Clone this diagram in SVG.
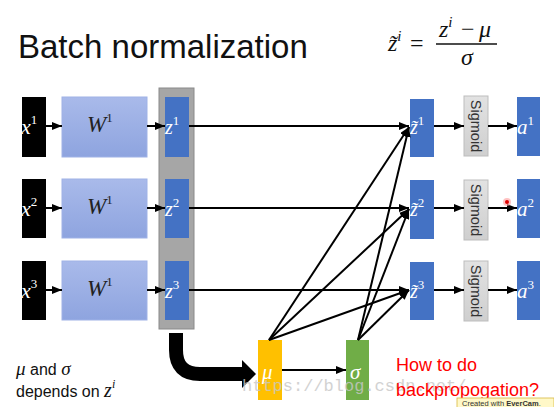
<svg xmlns="http://www.w3.org/2000/svg" width="554" height="407" viewBox="0 0 554 407">
<defs>
<linearGradient id="gW" x1="0" y1="0" x2="0" y2="1"><stop offset="0" stop-color="#A9BAEA"/><stop offset="1" stop-color="#8EA4DF"/></linearGradient>
<linearGradient id="gS" x1="0" y1="0" x2="0" y2="1"><stop offset="0" stop-color="#E2E2E2"/><stop offset="1" stop-color="#CFCFCF"/></linearGradient>
<marker id="ah" markerUnits="userSpaceOnUse" markerWidth="10" markerHeight="8" refX="10" refY="4" orient="auto"><path d="M0,0 L10,4 L0,8 z" fill="#000"/></marker>
<style>
.blk{fill:#000}
.w{fill:url(#gW);stroke:#9FB2E6;stroke-width:1}
.z{fill:#4472C4}
.sg{fill:url(#gS);stroke:#BDBDBD;stroke-width:1}
.m{font-family:"Liberation Serif","DejaVu Serif",serif;font-style:italic}
.wt{fill:#fff}
.sup{font-size:13px;font-style:normal}
.sans{font-family:"Liberation Sans","Noto Sans",sans-serif}
.ln{stroke:#000;stroke-width:2;fill:none;marker-end:url(#ah)}
</style>
</defs>
<rect width="554" height="407" fill="#fff"/>
<text x="18" y="58" class="sans" font-size="33" fill="#111">Batch normalization</text>
<g id="formula" class="m" fill="#111" font-size="24">
<text x="388" y="51">z&#x0303;<tspan font-size="15" dy="-10">i</tspan></text>
<text x="410" y="51" font-style="normal">=</text>
<line x1="436" y1="44" x2="497" y2="44" stroke="#111" stroke-width="1.5"/>
<text x="439" y="37">z<tspan font-size="15" dy="-10">i</tspan></text>
<text x="461" y="37" font-style="normal">−</text>
<text x="479" y="37">μ</text>
<text x="461" y="65">σ</text>
</g>
<g id="batch" ><rect x="159" y="88" width="35" height="241" fill="#A6A6A6" stroke="#8A8A8A" stroke-width="1"/></g>
<g id="x1"><rect x="22" y="97" width="24" height="60" class="blk"/><text x="21" y="134" class="m wt" font-size="22">x<tspan class="sup" dy="-10">1</tspan></text></g>
<g id="x2"><rect x="22" y="179" width="24" height="59" class="blk"/><text x="21" y="216" class="m wt" font-size="22">x<tspan class="sup" dy="-10">2</tspan></text></g>
<g id="x3"><rect x="22" y="261" width="24" height="59" class="blk"/><text x="21" y="298" class="m wt" font-size="22">x<tspan class="sup" dy="-10">3</tspan></text></g>
<g id="W1a"><rect x="62" y="97" width="85" height="60" class="w"/><text x="87" y="132" class="m" fill="#222" font-size="23">W<tspan class="sup" font-size="14" dy="-10">1</tspan></text></g>
<g id="W1b"><rect x="62" y="179" width="85" height="59" class="w"/><text x="87" y="214" class="m" fill="#222" font-size="23">W<tspan class="sup" font-size="14" dy="-10">1</tspan></text></g>
<g id="W1c"><rect x="62" y="261" width="85" height="59" class="w"/><text x="87" y="296" class="m" fill="#222" font-size="23">W<tspan class="sup" font-size="14" dy="-10">1</tspan></text></g>
<g id="z1"><rect x="165" y="97" width="24" height="60" class="z"/><text x="165" y="134" class="m wt" font-size="20">z<tspan class="sup" dy="-9">1</tspan></text></g>
<g id="z2"><rect x="165" y="179" width="24" height="59" class="z"/><text x="165" y="216" class="m wt" font-size="20">z<tspan class="sup" dy="-9">2</tspan></text></g>
<g id="z3"><rect x="165" y="261" width="24" height="59" class="z"/><text x="165" y="298" class="m wt" font-size="20">z<tspan class="sup" dy="-9">3</tspan></text></g>
<g id="zt1"><rect x="410" y="99" width="24" height="58" class="z"/><text x="410" y="134" class="m wt" font-size="20">z&#x0303;<tspan class="sup" dy="-9">1</tspan></text></g>
<g id="zt2"><rect x="410" y="180" width="24" height="59" class="z"/><text x="410" y="216" class="m wt" font-size="20">z&#x0303;<tspan class="sup" dy="-9">2</tspan></text></g>
<g id="zt3"><rect x="410" y="262" width="24" height="58" class="z"/><text x="410" y="298" class="m wt" font-size="20">z&#x0303;<tspan class="sup" dy="-9">3</tspan></text></g>
<g id="sig1"><rect x="464" y="96" width="24" height="60" class="sg"/><text transform="translate(471,126) rotate(90)" text-anchor="middle" class="sans" font-size="14.5" fill="#333">Sigmoid</text></g>
<g id="sig2"><rect x="464" y="180" width="24" height="60" class="sg"/><text transform="translate(471,210) rotate(90)" text-anchor="middle" class="sans" font-size="14.5" fill="#333">Sigmoid</text></g>
<g id="sig3"><rect x="464" y="261" width="24" height="60" class="sg"/><text transform="translate(471,291) rotate(90)" text-anchor="middle" class="sans" font-size="14.5" fill="#333">Sigmoid</text></g>
<g id="a1"><rect x="517" y="97" width="23" height="59" class="z"/><text x="517" y="134" class="m wt" font-size="21">a<tspan class="sup" dy="-9">1</tspan></text></g>
<g id="a2"><rect x="517" y="179" width="23" height="59" class="z"/><text x="517" y="216" class="m wt" font-size="21">a<tspan class="sup" dy="-9">2</tspan></text></g>
<g id="a3"><rect x="517" y="261" width="23" height="59" class="z"/><text x="517" y="298" class="m wt" font-size="21">a<tspan class="sup" dy="-9">3</tspan></text></g>
<g id="mu"><rect x="258" y="340" width="24" height="60" fill="#FFC000"/><text x="262" y="379" class="m wt" font-size="21">μ</text></g>
<g id="sigma"><rect x="346" y="340" width="23" height="60" fill="#70AD47"/><text x="350" y="379" class="m wt" font-size="21">σ</text></g>
<g id="connectors">
<line x1="46" y1="126" x2="62" y2="126" class="ln"/>
<line x1="46" y1="208" x2="62" y2="208" class="ln"/>
<line x1="46" y1="290" x2="62" y2="290" class="ln"/>
<line x1="147" y1="126" x2="165" y2="126" class="ln"/>
<line x1="147" y1="208" x2="165" y2="208" class="ln"/>
<line x1="147" y1="290" x2="165" y2="290" class="ln"/>
<line x1="189" y1="126" x2="409" y2="126" class="ln"/>
<line x1="189" y1="208" x2="409" y2="208" class="ln"/>
<line x1="189" y1="290" x2="409" y2="290" class="ln"/>
<line x1="269" y1="340" x2="409" y2="127" class="ln"/>
<line x1="269" y1="340" x2="409" y2="209" class="ln"/>
<line x1="269" y1="340" x2="409" y2="290" class="ln"/>
<line x1="358" y1="340" x2="409" y2="127" class="ln"/>
<line x1="358" y1="340" x2="409" y2="209" class="ln"/>
<line x1="358" y1="340" x2="409" y2="290" class="ln"/>
<line x1="434" y1="126" x2="464" y2="126" class="ln"/>
<line x1="434" y1="208" x2="464" y2="208" class="ln"/>
<line x1="434" y1="290" x2="464" y2="290" class="ln"/>
<line x1="488" y1="126" x2="517" y2="126" class="ln"/>
<line x1="488" y1="208" x2="517" y2="208" class="ln"/>
<line x1="488" y1="290" x2="517" y2="290" class="ln"/>
<line x1="282" y1="370" x2="346" y2="370" class="ln"/>
<path d="M176,333 V350 Q176,374 200,374 H244" stroke="#000" stroke-width="14" fill="none"/>
<polygon points="242,360 256,374 242,388" fill="#000"/>
</g>
<text x="16" y="375" class="sans" font-size="16" fill="#111"><tspan class="m" font-size="19">μ</tspan> and <tspan class="m" font-size="19">σ</tspan></text>
<text x="16" y="397" class="sans" font-size="16" fill="#111">depends on <tspan class="m" font-size="20">z</tspan><tspan class="m" font-size="12" dy="-9">i</tspan></text>
<text x="242" y="391" font-family="Liberation Mono, monospace" font-size="17" fill="#C8C8C8" opacity="0.8">https://blog.csdn.net/</text>
<text x="396" y="371" class="sans" font-size="18" fill="#FF0000">How to do</text>
<text x="396" y="396" class="sans" font-size="18" fill="#FF0000">backpropogation?</text>
<circle cx="507" cy="202" r="4" fill="#FF9999" opacity="0.6"/>
<circle cx="507" cy="202" r="2" fill="#E00000"/>
<g id="badge"><rect x="457" y="398" width="97" height="10" fill="#FFF8C8" stroke="#D8B840" stroke-width="0.8"/><text x="462" y="405.5" class="sans" font-size="7.5" fill="#333">Created with <tspan font-weight="bold">EverCam</tspan>.</text></g>
</svg>
